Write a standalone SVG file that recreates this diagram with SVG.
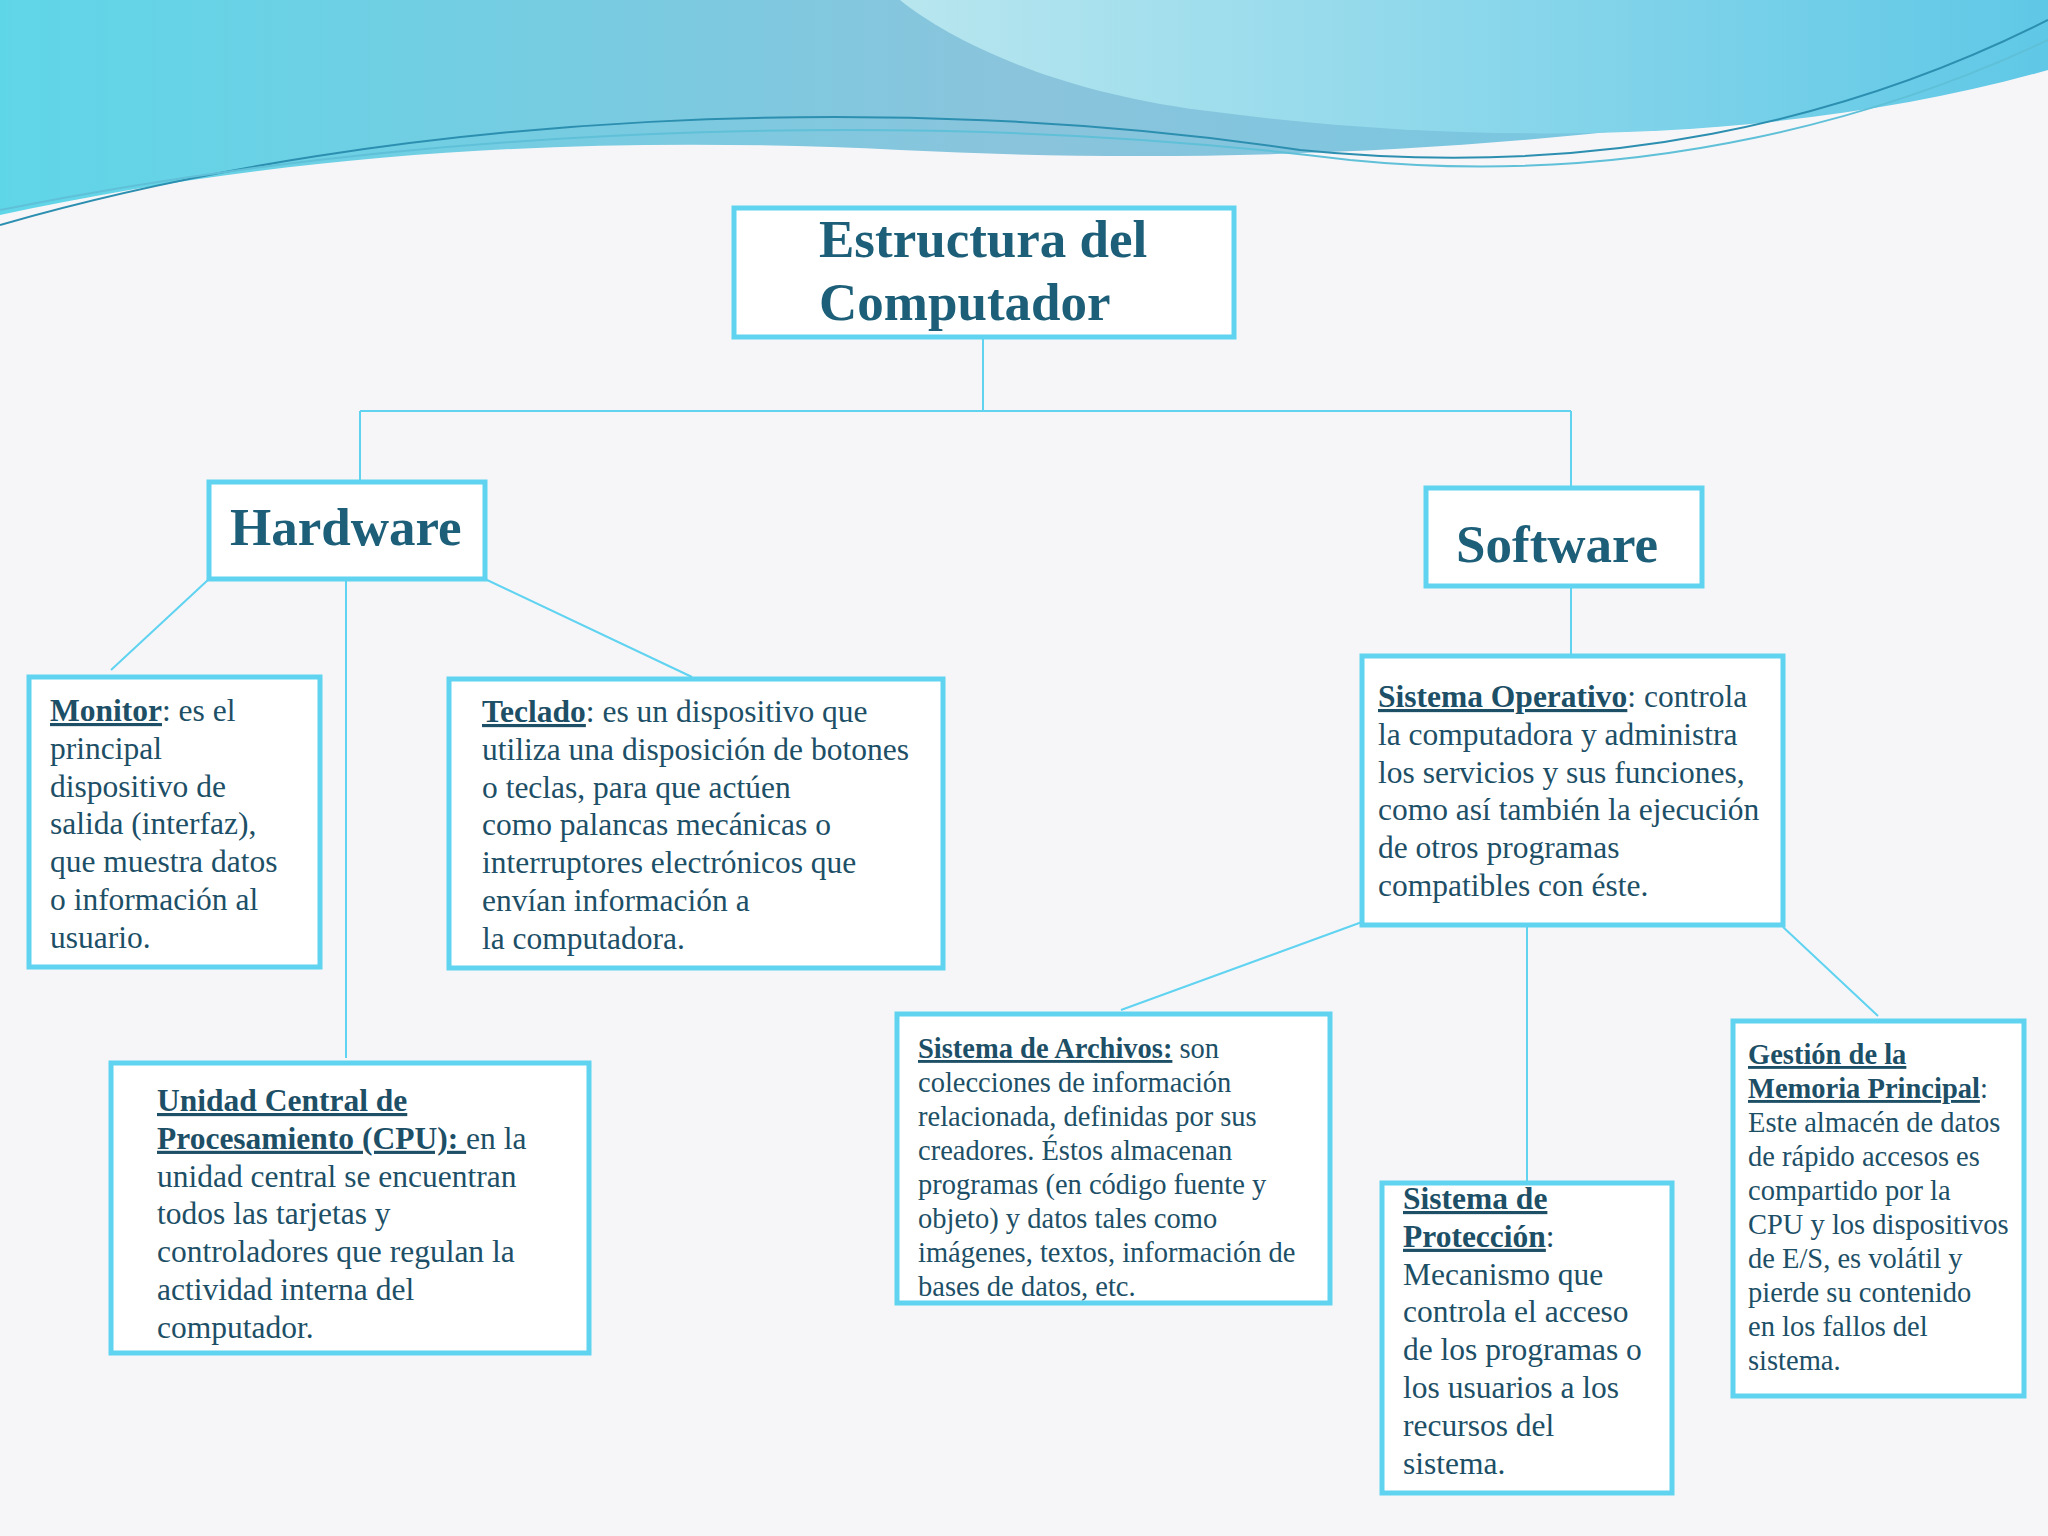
<svg xmlns="http://www.w3.org/2000/svg" width="2048" height="1536" viewBox="0 0 2048 1536">
<defs>
<linearGradient id="wv" x1="0" y1="0" x2="1" y2="0">
<stop offset="0" stop-color="#5fd6e8"/><stop offset="0.5" stop-color="#8ac4dc"/><stop offset="1" stop-color="#6cc9e4"/>
</linearGradient>
<linearGradient id="wv2" x1="0" y1="0" x2="1" y2="0">
<stop offset="0" stop-color="#b8e6ef"/><stop offset="1" stop-color="#5fc8e6"/>
</linearGradient>
</defs>
<style>
.box{fill:#fff;stroke:#5fd3f0;stroke-width:5}
.ln{stroke:#5fd3f0;stroke-width:2;fill:none}
.t{font-family:"Liberation Serif","DejaVu Serif",serif;fill:#1d4f66}
.h{font-weight:bold;fill:#1d5f78}
.u{font-weight:bold;text-decoration:underline}
</style>
<rect width="2048" height="1536" fill="#f6f6f9"/>
<g id="waves">
<path d="M0,0 H2048 V60 C1700,140 1300,170 900,150 C600,135 300,150 0,215 Z" fill="url(#wv)"/>
<path d="M900,0 H2048 V70 C1800,140 1500,150 1200,110 C1050,90 950,40 900,0 Z" fill="url(#wv2)"/>
<path d="M0,225 C400,110 900,90 1300,150 C1600,180 1850,120 2048,20" stroke="#2c8fb0" stroke-width="2" fill="none"/>
<path d="M0,210 C450,120 950,110 1350,160 C1650,190 1900,110 2048,40" stroke="#5fc0d8" stroke-width="2" fill="none"/>
</g>
<g id="connectors">
<path class="ln" d="M983,337 V411 M360,411 H1571 M360,411 V481 M1571,411 V488"/>
<path class="ln" d="M209,579 L111,670 M346,579 V1058 M485,579 L692,677"/>
<path class="ln" d="M1571,586 V656 M1362,922 L1121,1010 M1527,925 V1182 M1783,927 L1878,1016"/>
</g>
<g id="title"><rect class="box" x="734" y="208" width="500" height="129"/>
<text class="t h" font-size="53"><tspan x="819" y="257">Estructura del</tspan><tspan x="819" y="320">Computador</tspan></text></g>
<g id="hardware"><rect class="box" x="209" y="482" width="276" height="97"/>
<text class="t h" x="230" y="545" font-size="53">Hardware</text></g>
<g id="software"><rect class="box" x="1426" y="488" width="276" height="98"/>
<text class="t h" x="1456" y="562" font-size="53">Software</text></g>
<g id="monitor"><rect class="box" x="29" y="677" width="291" height="290"/>
<text class="t" font-size="31.5"><tspan x="50" y="721"><tspan class="u">Monitor</tspan>: es el</tspan><tspan x="50" dy="37.8">principal</tspan><tspan x="50" dy="37.8">dispositivo de</tspan><tspan x="50" dy="37.8">salida (interfaz),</tspan><tspan x="50" dy="37.8">que muestra datos</tspan><tspan x="50" dy="37.8">o información al</tspan><tspan x="50" dy="37.8">usuario.</tspan></text></g>
<g id="teclado"><rect class="box" x="449" y="679" width="494" height="289"/>
<text class="t" font-size="31.5"><tspan x="482" y="722"><tspan class="u">Teclado</tspan>: es un dispositivo que</tspan><tspan x="482" dy="37.8">utiliza una disposición de botones</tspan><tspan x="482" dy="37.8">o teclas, para que actúen</tspan><tspan x="482" dy="37.8">como palancas mecánicas o</tspan><tspan x="482" dy="37.8">interruptores electrónicos que</tspan><tspan x="482" dy="37.8">envían información a</tspan><tspan x="482" dy="37.8">la computadora.</tspan></text></g>
<g id="cpu"><rect class="box" x="111" y="1063" width="478" height="290"/>
<text class="t" font-size="31.5"><tspan x="157" y="1111" class="u">Unidad Central de</tspan><tspan x="157" dy="37.8"><tspan class="u">Procesamiento (CPU): </tspan>en la</tspan><tspan x="157" dy="37.8">unidad central se encuentran</tspan><tspan x="157" dy="37.8">todos las tarjetas y</tspan><tspan x="157" dy="37.8">controladores que regulan la</tspan><tspan x="157" dy="37.8">actividad interna del</tspan><tspan x="157" dy="37.8">computador.</tspan></text></g>
<g id="so"><rect class="box" x="1362" y="656" width="421" height="269"/>
<text class="t" font-size="31.5"><tspan x="1378" y="707"><tspan class="u">Sistema Operativo</tspan>: controla</tspan><tspan x="1378" dy="37.8">la computadora y administra</tspan><tspan x="1378" dy="37.8">los servicios y sus funciones,</tspan><tspan x="1378" dy="37.8">como así también la ejecución</tspan><tspan x="1378" dy="37.8">de otros programas</tspan><tspan x="1378" dy="37.8">compatibles con éste.</tspan></text></g>
<g id="archivos"><rect class="box" x="897" y="1014" width="433" height="289"/>
<text class="t" font-size="28.5"><tspan x="918" y="1058"><tspan class="u">Sistema de Archivos:</tspan> son</tspan><tspan x="918" dy="34">colecciones de información</tspan><tspan x="918" dy="34">relacionada, definidas por sus</tspan><tspan x="918" dy="34">creadores. Éstos almacenan</tspan><tspan x="918" dy="34">programas (en código fuente y</tspan><tspan x="918" dy="34">objeto) y datos tales como</tspan><tspan x="918" dy="34">imágenes, textos, información de</tspan><tspan x="918" dy="34">bases de datos, etc.</tspan></text></g>
<g id="proteccion"><rect class="box" x="1382" y="1183" width="290" height="310"/>
<text class="t" font-size="31.5"><tspan x="1403" y="1209" class="u">Sistema de</tspan><tspan x="1403" dy="37.8"><tspan class="u">Protección</tspan>:</tspan><tspan x="1403" dy="37.8">Mecanismo que</tspan><tspan x="1403" dy="37.8">controla el acceso</tspan><tspan x="1403" dy="37.8">de los programas o</tspan><tspan x="1403" dy="37.8">los usuarios a los</tspan><tspan x="1403" dy="37.8">recursos del</tspan><tspan x="1403" dy="37.8">sistema.</tspan></text></g>
<g id="memoria"><rect class="box" x="1733" y="1021" width="291" height="375"/>
<text class="t" font-size="28.5"><tspan x="1748" y="1064" class="u">Gestión de la</tspan><tspan x="1748" dy="34"><tspan class="u">Memoria Principal</tspan>:</tspan><tspan x="1748" dy="34">Este almacén de datos</tspan><tspan x="1748" dy="34">de rápido accesos es</tspan><tspan x="1748" dy="34">compartido por la</tspan><tspan x="1748" dy="34">CPU y los dispositivos</tspan><tspan x="1748" dy="34">de E/S, es volátil y</tspan><tspan x="1748" dy="34">pierde su contenido</tspan><tspan x="1748" dy="34">en los fallos del</tspan><tspan x="1748" dy="34">sistema.</tspan></text></g>
</svg>
